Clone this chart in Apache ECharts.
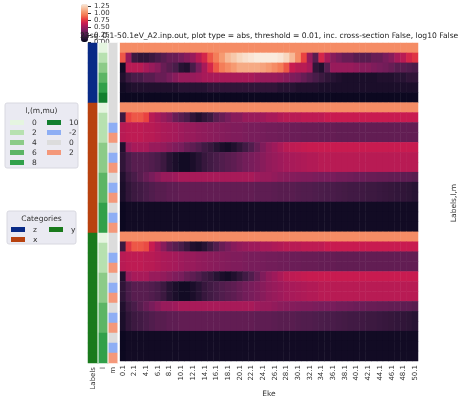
<!DOCTYPE html>
<html>
<head>
<meta charset="utf-8">
<script src="https://cdn.jsdelivr.net/npm/echarts@6/dist/echarts.min.js"></script>
<style>html,body{margin:0;padding:0;background:#fff}#chart{width:474px;height:403px}</style>
</head>
<body>
<div id="chart"></div>
<script>
// Eke columns 0.1 .. 50.1
var eke = ['0.1','1.1','2.1','3.1','4.1','5.1','6.1','7.1','8.1','9.1','10.1','11.1','12.1','13.1','14.1','15.1','16.1','17.1','18.1','19.1','20.1','21.1','22.1','23.1','24.1','25.1','26.1','27.1','28.1','29.1','30.1','31.1','32.1','33.1','34.1','35.1','36.1','37.1','38.1','39.1','40.1','41.1','42.1','43.1','44.1','45.1','46.1','47.1','48.1','49.1','50.1'];
var colorbarTicks = [0, 0.25, 0.5, 0.75, 1.0, 1.25];

// per row values (abs)
var rowL0 = [1,1,1,1,1,1,1,1,1,1, 1,1,1,1,1,1,1,1,1,1, 1,1,1,1,1,1,1,1,1,1, 1,1,1,1,1,1,1,1,1,1, 1,1,1,1,1,1,1,1,1,1,1];
var z2 = [0.85,0.5,0.2,0.15,0.15,0.2,0.25,0.3,0.35,0.35, 0.4,0.45,0.5,0.6,0.7,0.85,0.95,1.05,1.15,1.2, 1.25,1.28,1.3,1.32,1.33,1.33,1.32,1.3,1.25,1.15, 1.0,0.8,0.5,0.3,0.7,0.55,0.45,0.4,0.35,0.35, 0.3,0.3,0.3,0.35,0.35,0.4,0.45,0.55,0.6,0.7,0.75];
var z4 = [0.05,0.6,0.6,0.6,0.55,0.5,0.45,0.35,0.3,0.25, 0.12,0.1,0.25,0.4,0.55,0.7,0.85,0.95,1.0,1.05, 1.1,1.1,1.1,1.1,1.08,1.05,1.0,0.95,0.85,0.65, 0.6,0.6,0.55,0.15,0.1,0.3,0.5,0.5,0.5,0.5, 0.48,0.45,0.45,0.42,0.4,0.38,0.35,0.3,0.3,0.28,0.25];
var z6 = [0.1,0.2,0.25,0.25,0.3,0.3,0.35,0.35,0.4,0.45, 0.5,0.5,0.5,0.52,0.55,0.55,0.55,0.55,0.55,0.55, 0.55,0.55,0.55,0.52,0.5,0.5,0.5,0.48,0.45,0.42, 0.4,0.35,0.3,0.25,0.2,0.15,0.12,0.1,0.08,0.08, 0.08,0.08,0.08,0.08,0.1,0.1,0.1,0.12,0.12,0.15,0.15];
var z8 = [0.05,0.08,0.1,0.1,0.1,0.1,0.1,0.1,0.1,0.1, 0.12,0.12,0.12,0.12,0.12,0.15,0.15,0.15,0.15,0.15, 0.15,0.15,0.15,0.15,0.15,0.15,0.15,0.12,0.12,0.12, 0.1,0.1,0.1,0.1,0.08,0.08,0.08,0.08,0.08,0.08, 0.08,0.08,0.08,0.08,0.08,0.08,0.08,0.08,0.08,0.08,0.08];
var z10 = [0.03,0.03,0.03,0.03,0.03,0.03,0.03,0.03,0.03,0.03, 0.03,0.03,0.03,0.03,0.03,0.03,0.03,0.03,0.03,0.03, 0.03,0.03,0.03,0.03,0.03,0.03,0.03,0.03,0.03,0.03, 0.03,0.03,0.03,0.03,0.03,0.03,0.03,0.03,0.03,0.03, 0.03,0.03,0.03,0.03,0.03,0.03,0.03,0.03,0.03,0.03,0.03];
var x2m0 = [0.2,0.8,0.85,0.85,0.8,0.6,0.55,0.5,0.45,0.35, 0.3,0.25,0.15,0.1,0.15,0.2,0.3,0.35,0.4,0.45, 0.45,0.5,0.5,0.5,0.52,0.55,0.55,0.58,0.6,0.6, 0.6,0.62,0.62,0.62,0.62,0.65,0.65,0.65,0.65,0.65, 0.65,0.65,0.65,0.65,0.65,0.65,0.65,0.65,0.65,0.65,0.65];
var x2m2 = [0.6,0.62,0.62,0.62,0.6,0.6,0.58,0.56,0.55,0.54, 0.52,0.5,0.5,0.48,0.47,0.46,0.45,0.44,0.43,0.42, 0.42,0.41,0.4,0.4,0.39,0.38,0.38,0.37,0.37,0.36, 0.36,0.35,0.35,0.35,0.34,0.34,0.34,0.33,0.33,0.33, 0.33,0.33,0.33,0.33,0.33,0.33,0.33,0.33,0.33,0.33,0.33];
var x4m0 = [0.1,0.5,0.55,0.55,0.55,0.5,0.5,0.48,0.45,0.42, 0.4,0.35,0.32,0.28,0.22,0.18,0.12,0.08,0.06,0.1, 0.15,0.22,0.28,0.35,0.42,0.48,0.52,0.56,0.6,0.62, 0.63,0.64,0.65,0.65,0.65,0.65,0.65,0.65,0.65,0.65, 0.65,0.65,0.65,0.65,0.65,0.65,0.65,0.65,0.65,0.65,0.65];
var x4m2 = [0.15,0.25,0.3,0.3,0.3,0.28,0.25,0.2,0.12,0.08, 0.05,0.05,0.08,0.12,0.18,0.22,0.25,0.28,0.3,0.32, 0.35,0.38,0.4,0.42,0.45,0.48,0.5,0.52,0.54,0.55, 0.56,0.57,0.58,0.58,0.6,0.6,0.6,0.6,0.6,0.6, 0.6,0.6,0.6,0.6,0.6,0.6,0.6,0.6,0.6,0.6,0.6];
var x6m0 = [0.1,0.2,0.25,0.3,0.35,0.4,0.45,0.5,0.5,0.52, 0.55,0.55,0.55,0.55,0.55,0.55,0.55,0.55,0.55,0.55, 0.55,0.55,0.55,0.52,0.5,0.5,0.48,0.46,0.45,0.44, 0.43,0.42,0.42,0.41,0.4,0.4,0.4,0.38,0.38,0.37, 0.36,0.36,0.35,0.35,0.34,0.34,0.33,0.33,0.32,0.32,0.3];
var x6m2 = [0.08,0.15,0.2,0.22,0.25,0.28,0.3,0.3,0.32,0.32, 0.33,0.33,0.33,0.33,0.33,0.33,0.33,0.33,0.33,0.33, 0.33,0.33,0.33,0.32,0.32,0.32,0.31,0.3,0.3,0.3, 0.29,0.28,0.28,0.27,0.26,0.25,0.25,0.24,0.23,0.22, 0.22,0.21,0.2,0.2,0.19,0.18,0.17,0.16,0.15,0.14,0.12];
var l8row = [0.03,0.05,0.05,0.05,0.05,0.05,0.05,0.05,0.05,0.05, 0.05,0.05,0.05,0.05,0.05,0.05,0.05,0.05,0.05,0.05, 0.05,0.05,0.05,0.05,0.05,0.05,0.05,0.05,0.05,0.05, 0.05,0.05,0.05,0.05,0.05,0.05,0.05,0.05,0.05,0.05, 0.05,0.05,0.05,0.05,0.05,0.05,0.05,0.05,0.05,0.05,0.05];
var y2m0 = [0.2,0.75,0.85,0.85,0.82,0.65,0.55,0.45,0.35,0.3, 0.25,0.18,0.1,0.08,0.12,0.2,0.28,0.35,0.4,0.45, 0.48,0.5,0.52,0.52,0.55,0.55,0.57,0.58,0.6,0.6, 0.6,0.62,0.62,0.62,0.62,0.65,0.65,0.65,0.65,0.65, 0.65,0.65,0.65,0.65,0.65,0.65,0.65,0.65,0.65,0.65,0.65];

// row labels: [category, l, m, values]
var rows = [
  ['z',0,0,rowL0],['z',2,0,z2],['z',4,0,z4],['z',6,0,z6],['z',8,0,z8],['z',10,0,z10],
  ['x',0,0,rowL0],['x',2,0,x2m0],['x',2,-2,x2m2],['x',2,2,x2m2],['x',4,0,x4m0],['x',4,-2,x4m2],['x',4,2,x4m2],
  ['x',6,0,x6m0],['x',6,-2,x6m2],['x',6,2,x6m2],['x',8,0,l8row],['x',8,-2,l8row],['x',8,2,l8row],
  ['y',0,0,rowL0],['y',2,0,y2m0],['y',2,-2,x2m2],['y',2,2,x2m2],['y',4,0,x4m0],['y',4,-2,x4m2],['y',4,2,x4m2],
  ['y',6,0,x6m0],['y',6,-2,x6m2],['y',6,2,x6m2],['y',8,0,l8row],['y',8,-2,l8row],['y',8,2,l8row]
];

var catColors = {z: '#082a86', x: '#b8420f', y: '#197a1c'};
var lColors = {0: '#e5f5e0', 2: '#b7e1b0', 4: '#8ccb88', 6: '#5cb565', 8: '#31a04a', 10: '#127f2e'};
var mColors = {'-2': '#8eaef4', 0: '#dcdcdc', 2: '#f4987a'};
var rocket = ['#03051a','#2b1435','#4c1d4b','#771d5b','#a11a5b','#cb1b4f','#e83f3f','#f37651','#f69c73','#f7c5a5','#faebdd'];

var rowIdx = rows.map(function (r, i) { return String(i); });
var heat = [], annot = [];
rows.forEach(function (r, i) {
  r[3].forEach(function (v, j) { heat.push([j, i, v]); });
  annot.push({value: [0, i, 1], itemStyle: {color: catColors[r[0]]}});
  annot.push({value: [1, i, 1], itemStyle: {color: lColors[r[1]]}});
  annot.push({value: [2, i, 1], itemStyle: {color: mColors[r[2]]}});
});

var font = 'DejaVu Sans';
var chart = echarts.init(document.getElementById('chart'));

// legend boxes
var g = [];
function legendBox(x, y, w, h, title, items) {
  g.push({type: 'rect', shape: {x: x, y: y, width: w, height: h, r: 2}, style: {fill: '#eaeaf2', stroke: '#d8d8e0'}});
  g.push({type: 'text', x: x + w / 2, y: y + 4, style: {text: title, font: '7.5px ' + font, fill: '#333', textAlign: 'center'}});
  items.forEach(function (it) {
    g.push({type: 'rect', shape: {x: x + it[0], y: y + it[1], width: 14, height: 5}, style: {fill: it[2]}});
    g.push({type: 'text', x: x + it[0] + 22, y: y + it[1] - 1, style: {text: it[3], font: '7.5px ' + font, fill: '#333'}});
  });
}
legendBox(5, 103, 73, 65, 'l,(m,mu)', [
  [5, 17, lColors[0], '0'], [5, 27, lColors[2], '2'], [5, 37, lColors[4], '4'], [5, 47, lColors[6], '6'], [5, 57, lColors[8], '8'],
  [42, 17, lColors[10], '10'], [42, 27, mColors['-2'], '-2'], [42, 37, mColors[0], '0'], [42, 47, mColors[2], '2']
]);
legendBox(7, 211, 69, 33, 'Categories', [
  [4, 16, catColors.z, 'z'], [42, 16, catColors.y, 'y'], [4, 26, catColors.x, 'x']
]);
g.push({type: 'text', x: 450, y: 203, rotation: Math.PI / 2, style: {text: 'Labels,l,m', font: '7.5px ' + font, fill: '#333', textAlign: 'center'}});
// thin gaps between the annotation columns
g.push({type: 'rect', z: 100, shape: {x: 97.5, y: 43, width: 1, height: 320}, style: {fill: '#fff'}});
g.push({type: 'rect', z: 100, shape: {x: 107.5, y: 43, width: 1, height: 320}, style: {fill: '#fff'}});
g.push({type: 'rect', z: 100, shape: {x: 117.5, y: 43, width: 2, height: 320}, style: {fill: '#fff'}});

var option = {
  animation: false,
  textStyle: {fontFamily: font},
  title: {
    text: '23sg_0.1-50.1eV_A2.inp.out, plot type = abs, threshold = 0.01, inc. cross-section False, log10 False',
    left: 80, top: 32, padding: 0,
    textStyle: {fontSize: 7.6, fontWeight: 'normal', color: '#222', fontFamily: font}
  },
  visualMap: {
    type: 'continuous', min: 0, max: 1.32, seriesIndex: 0,
    left: 81, top: 4, itemWidth: 7, itemHeight: 38, padding: 0,
    text: ['', ''], showLabel: false, calculable: false, hoverLink: false,
    inRange: {color: rocket}
  },
  grid: [
    {left: 120, top: 43, width: 298, height: 320},
    {left: 88, top: 43, width: 30, height: 320},
    {left: 88, top: 4, width: 0, height: 38}
  ],
  xAxis: [
    {type: 'category', gridIndex: 0, data: eke, name: 'Eke', nameLocation: 'middle', nameGap: 29,
     nameTextStyle: {fontSize: 7.5, color: '#333'},
     axisLine: {show: false}, axisTick: {interval: 1, length: 3, lineStyle: {color: '#333'}},
     axisLabel: {interval: 1, rotate: 90, fontSize: 7, color: '#333', margin: 4}},
    {type: 'category', gridIndex: 1, data: ['Labels', 'l', 'm'],
     axisLine: {show: false}, axisTick: {length: 3, lineStyle: {color: '#333'}},
     axisLabel: {rotate: 90, fontSize: 7, color: '#333', margin: 4}},
    {type: 'value', gridIndex: 2, show: false}
  ],
  yAxis: [
    {type: 'category', gridIndex: 0, data: rowIdx, inverse: true, show: false},
    {type: 'category', gridIndex: 1, data: rowIdx, inverse: true, show: false},
    {type: 'value', gridIndex: 2, min: 0, max: 1.32, interval: 0.25, position: 'right',
     axisLine: {show: false}, splitLine: {show: false},
     axisTick: {show: true, length: 3, inside: false, lineStyle: {color: '#333'}},
     axisLabel: {fontSize: 7, color: '#333', margin: 6, formatter: function (v) { return v.toFixed(2); }}}
  ],
  series: [
    {type: 'heatmap', xAxisIndex: 0, yAxisIndex: 0, data: heat, itemStyle: {borderWidth: 0}},
    {type: 'heatmap', xAxisIndex: 1, yAxisIndex: 1, data: annot, itemStyle: {borderWidth: 0}}
  ],
  graphic: g
};
chart.setOption(option);
</script>
</body>
</html>
